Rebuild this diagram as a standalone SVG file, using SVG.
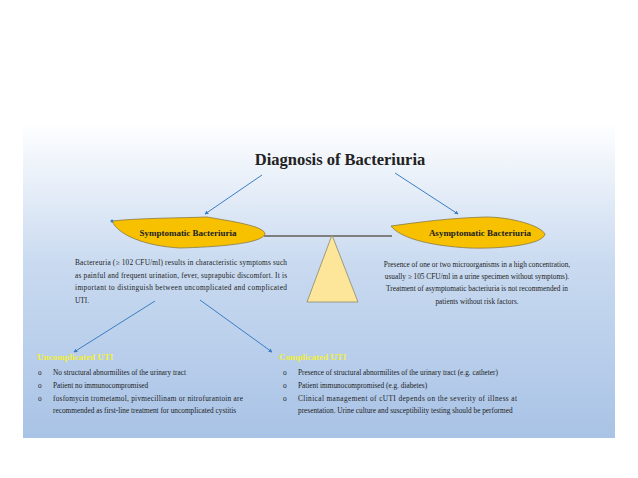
<svg xmlns="http://www.w3.org/2000/svg" width="638" height="478" viewBox="0 0 638 478">
<defs>
<linearGradient id="bg" x1="0" y1="0" x2="0" y2="1">
<stop offset="0" stop-color="#ffffff"/><stop offset="0.45" stop-color="#c9daf0"/><stop offset="1" stop-color="#a9c3e6"/>
</linearGradient>
<marker id="ah" viewBox="0 0 6 6" refX="5" refY="3" markerWidth="4" markerHeight="4" orient="auto"><path d="M0,0L6,3L0,6z" fill="#3b7dc4"/></marker>
</defs>
<style>
.t{font-family:"Liberation Serif",serif;fill:#222}
.p{font-size:7.3px}
.h{font-size:9px;font-weight:bold;fill:#f2ee3a}
.leaf{fill:#f7c100;stroke:#8a7a40;stroke-width:0.8}
.c{stroke:#3b7dc4;stroke-width:1;fill:none;marker-end:url(#ah)}
</style>
<rect width="638" height="478" fill="#fff"/>
<rect x="23" y="122" width="592" height="316" fill="url(#bg)"/>
<text class="t" x="340" y="165" text-anchor="middle" font-size="16.5" font-weight="bold">Diagnosis of Bacteriuria</text>
<g id="connectors">
<line class="c" x1="262" y1="175" x2="205" y2="214"/>
<line class="c" x1="395" y1="173" x2="458" y2="214"/>
<line class="c" x1="155" y1="301" x2="74" y2="352"/>
<line class="c" x1="200" y1="300" x2="272" y2="352"/>
</g>
<g id="scale">
<line x1="264" y1="236" x2="392" y2="236" stroke="#7f7f7f" stroke-width="2.2"/>
<polygon points="332,235 307,302 358,302" fill="#fde59a" stroke="#8a8a6a" stroke-width="0.8"/>
</g>
<g id="symptomatic">
<path class="leaf" d="M112,221 C140,218 180,218 207,217 C230,221 265,226 265,234 C262,244 215,247 180,248 C145,246 118,235 112,221 Z"/>
<circle cx="112" cy="221" r="1.5" fill="#3b7dc4"/>
<text class="t" x="188" y="236" text-anchor="middle" font-size="9" font-weight="bold">Symptomatic Bacteriuria</text>
<g class="t p">
<text x="75" y="265" textLength="212" lengthAdjust="spacing">Bactereuria (≥ 102 CFU/ml) results in characteristic symptoms such</text>
<text x="75" y="278" textLength="212" lengthAdjust="spacing">as painful and frequent urination, fever, suprapubic discomfort. It is</text>
<text x="75" y="290" textLength="212" lengthAdjust="spacing">important to distinguish between uncomplicated and complicated</text>
<text x="75" y="303">UTI.</text>
</g>
</g>
<g id="asymptomatic">
<path class="leaf" d="M391,226 C420,222 450,218 486,217 C510,217 540,225 545,234 C543,245 500,249 470,248 C430,246 400,238 391,226 Z"/>
<text class="t" x="480" y="236" text-anchor="middle" font-size="9" font-weight="bold">Asymptomatic Bacteriuria</text>
<g class="t p" text-anchor="middle">
<text x="477" y="267">Presence of one or two microorganisms in a high concentration,</text>
<text x="477" y="279">usually ≥ 105 CFU/ml in a urine specimen without symptoms).</text>
<text x="477" y="291">Treatment of asymptomatic bacteriuria is not recommended in</text>
<text x="477" y="304">patients without risk factors.</text>
</g>
</g>
<g id="uncomplicated">
<text class="t h" x="37" y="360">Uncomplicated UTI</text>
<g class="t p">
<text x="38" y="375">o</text><text x="53" y="375">No structural abnormilites of the urinary tract</text>
<text x="38" y="388">o</text><text x="53" y="388">Patient no immunocompromised</text>
<text x="38" y="401">o</text><text x="53" y="401" textLength="190" lengthAdjust="spacing">fosfomycin trometamol, pivmecillinam or nitrofurantoin are</text>
<text x="53" y="413">recommended as first-line treatment for uncomplicated cystitis</text>
</g>
</g>
<g id="complicated">
<text class="t h" x="279" y="360">Complicated UTI</text>
<g class="t p">
<text x="283" y="375">o</text><text x="298" y="375">Presence of structural abnormilites of the urinary tract (e.g. catheter)</text>
<text x="283" y="388">o</text><text x="298" y="388">Patient immunocompromised (e.g. diabetes)</text>
<text x="283" y="401">o</text><text x="298" y="401" textLength="219" lengthAdjust="spacing">Clinical management of cUTI depends on the severity of illness at</text>
<text x="298" y="413">presentation. Urine culture and susceptibility testing should be performed</text>
</g>
</g>
</svg>
